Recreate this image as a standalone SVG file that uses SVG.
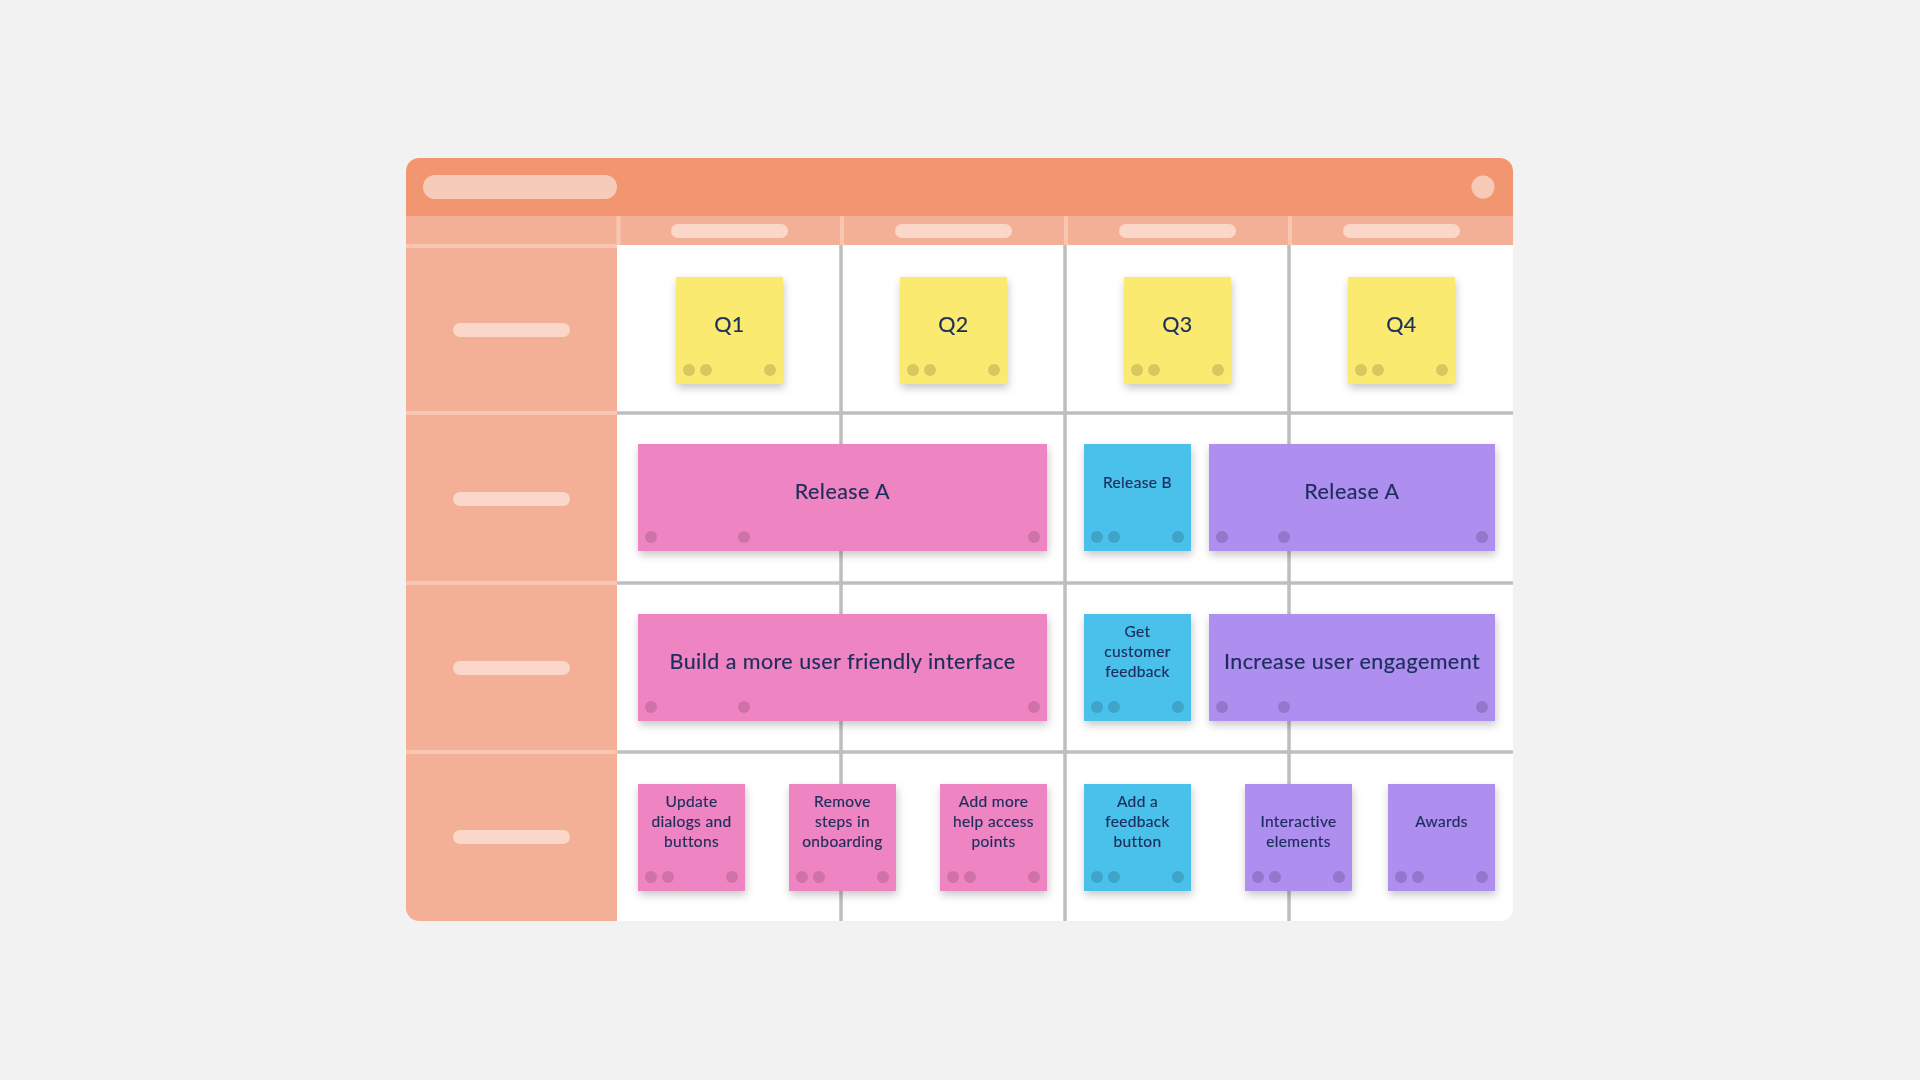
<svg xmlns="http://www.w3.org/2000/svg" width="1920" height="1080" viewBox="0 0 1920 1080">
<defs>
<style>
.t{font-family:Lato,"Open Sans","Liberation Sans",sans-serif;fill:#1C2D5C;stroke:#1C2D5C;stroke-width:0.18px;text-anchor:middle}
.big{font-size:21.5px;letter-spacing:0.45px}
.sm{font-size:15.5px;letter-spacing:0.35px}
.grid{stroke:#BEBEBE;stroke-width:3.5;fill:none}
.sep{stroke:#F8C6B2;stroke-width:4;fill:none}
.y{fill:#FAEB70}.yd{fill:#D6C85E}
.p{fill:#EF84C2}.pd{fill:#CF72A9}
.b{fill:#4AC1EB}.bd{fill:#3FA3C8}
.v{fill:#AE8EEE}.vd{fill:#9476CC}
.cp{fill:#FAD7C9}
</style>
<filter id="sh" x="-20%" y="-20%" width="140%" height="150%">
<feDropShadow dx="1" dy="4" stdDeviation="4" flood-color="#000" flood-opacity="0.22"/>
</filter>
<clipPath id="board"><rect x="406" y="158" width="1107" height="763" rx="13"/></clipPath>
</defs>
<rect width="1920" height="1080" fill="#F2F2F2"/>
<g id="board-frame" clip-path="url(#board)">
<rect x="406" y="158" width="1107" height="763" fill="#FFFFFF"/>
<rect x="406" y="158" width="1107" height="58" fill="#F29672"/>
<rect x="406" y="216" width="1107" height="29" fill="#F3B096"/>
<rect x="406" y="245" width="211" height="676" fill="#F3B096"/>
<rect x="423" y="175" width="194" height="24" rx="12" fill="#F7CBB9"/>
<circle cx="1483" cy="187" r="11.5" fill="#F7C9B7"/>
<g class="cp">
<rect x="671" y="224" width="117" height="14" rx="7"/>
<rect x="895" y="224" width="117" height="14" rx="7"/>
<rect x="1119" y="224" width="117" height="14" rx="7"/>
<rect x="1343" y="224" width="117" height="14" rx="7"/>
<rect x="453" y="323" width="117" height="14" rx="7"/>
<rect x="453" y="492" width="117" height="14" rx="7"/>
<rect x="453" y="661" width="117" height="14" rx="7"/>
<rect x="453" y="830" width="117" height="14" rx="7"/>
</g>
<path class="sep" d="M618.5 216V245M842 216V245M1066 216V245M1290 216V245M406 246H617M406 413H617M406 583H617M406 752H617"/>
</g>
<g id="connectors">
<path class="grid" d="M617 413H1513M617 583H1513M617 752H1513M841 245V921M1065 245V921M1289 245V921"/>
</g>
<g id="q1" filter="url(#sh)"><rect class="y" x="676" y="277" width="107" height="107"/><circle class="yd" cx="689" cy="370" r="6"/><circle class="yd" cx="706" cy="370" r="6"/><circle class="yd" cx="770" cy="370" r="6"/><text class="t big" x="729.5" y="332">Q1</text></g>
<g id="q2" filter="url(#sh)"><rect class="y" x="900" y="277" width="107" height="107"/><circle class="yd" cx="913" cy="370" r="6"/><circle class="yd" cx="930" cy="370" r="6"/><circle class="yd" cx="994" cy="370" r="6"/><text class="t big" x="953.5" y="332">Q2</text></g>
<g id="q3" filter="url(#sh)"><rect class="y" x="1124" y="277" width="107" height="107"/><circle class="yd" cx="1137" cy="370" r="6"/><circle class="yd" cx="1154" cy="370" r="6"/><circle class="yd" cx="1218" cy="370" r="6"/><text class="t big" x="1177.5" y="332">Q3</text></g>
<g id="q4" filter="url(#sh)"><rect class="y" x="1348" y="277" width="107" height="107"/><circle class="yd" cx="1361" cy="370" r="6"/><circle class="yd" cx="1378" cy="370" r="6"/><circle class="yd" cx="1442" cy="370" r="6"/><text class="t big" x="1401.5" y="332">Q4</text></g>
<g id="release-a-pink" filter="url(#sh)"><rect class="p" x="638" y="444" width="409" height="107"/><circle class="pd" cx="651" cy="537" r="6"/><circle class="pd" cx="744" cy="537" r="6"/><circle class="pd" cx="1034" cy="537" r="6"/><text class="t big" x="842.5" y="499">Release A</text></g>
<g id="release-b" filter="url(#sh)"><rect class="b" x="1084" y="444" width="107" height="107"/><circle class="bd" cx="1097" cy="537" r="6"/><circle class="bd" cx="1114" cy="537" r="6"/><circle class="bd" cx="1178" cy="537" r="6"/><text class="t sm" x="1137.5" y="488">Release B</text></g>
<g id="release-a-purple" filter="url(#sh)"><rect class="v" x="1209" y="444" width="286" height="107"/><circle class="vd" cx="1222" cy="537" r="6"/><circle class="vd" cx="1284" cy="537" r="6"/><circle class="vd" cx="1482" cy="537" r="6"/><text class="t big" x="1352" y="499">Release A</text></g>
<g id="build-interface" filter="url(#sh)"><rect class="p" x="638" y="614" width="409" height="107"/><circle class="pd" cx="651" cy="707" r="6"/><circle class="pd" cx="744" cy="707" r="6"/><circle class="pd" cx="1034" cy="707" r="6"/><text class="t big" x="842.5" y="669">Build a more user friendly interface</text></g>
<g id="customer-feedback" filter="url(#sh)"><rect class="b" x="1084" y="614" width="107" height="107"/><circle class="bd" cx="1097" cy="707" r="6"/><circle class="bd" cx="1114" cy="707" r="6"/><circle class="bd" cx="1178" cy="707" r="6"/><text class="t sm" x="1137.5" y="637">Get</text><text class="t sm" x="1137.5" y="657">customer</text><text class="t sm" x="1137.5" y="677">feedback</text></g>
<g id="user-engagement" filter="url(#sh)"><rect class="v" x="1209" y="614" width="286" height="107"/><circle class="vd" cx="1222" cy="707" r="6"/><circle class="vd" cx="1284" cy="707" r="6"/><circle class="vd" cx="1482" cy="707" r="6"/><text class="t big" x="1352" y="669">Increase user engagement</text></g>
<g id="update-dialogs" filter="url(#sh)"><rect class="p" x="638" y="784" width="107" height="107"/><circle class="pd" cx="651" cy="877" r="6"/><circle class="pd" cx="668" cy="877" r="6"/><circle class="pd" cx="732" cy="877" r="6"/><text class="t sm" x="691.5" y="807">Update</text><text class="t sm" x="691.5" y="827">dialogs and</text><text class="t sm" x="691.5" y="847">buttons</text></g>
<g id="remove-steps" filter="url(#sh)"><rect class="p" x="789" y="784" width="107" height="107"/><circle class="pd" cx="802" cy="877" r="6"/><circle class="pd" cx="819" cy="877" r="6"/><circle class="pd" cx="883" cy="877" r="6"/><text class="t sm" x="842.5" y="807">Remove</text><text class="t sm" x="842.5" y="827">steps in</text><text class="t sm" x="842.5" y="847">onboarding</text></g>
<g id="help-access" filter="url(#sh)"><rect class="p" x="940" y="784" width="107" height="107"/><circle class="pd" cx="953" cy="877" r="6"/><circle class="pd" cx="970" cy="877" r="6"/><circle class="pd" cx="1034" cy="877" r="6"/><text class="t sm" x="993.5" y="807">Add more</text><text class="t sm" x="993.5" y="827">help access</text><text class="t sm" x="993.5" y="847">points</text></g>
<g id="feedback-button" filter="url(#sh)"><rect class="b" x="1084" y="784" width="107" height="107"/><circle class="bd" cx="1097" cy="877" r="6"/><circle class="bd" cx="1114" cy="877" r="6"/><circle class="bd" cx="1178" cy="877" r="6"/><text class="t sm" x="1137.5" y="807">Add a</text><text class="t sm" x="1137.5" y="827">feedback</text><text class="t sm" x="1137.5" y="847">button</text></g>
<g id="interactive" filter="url(#sh)"><rect class="v" x="1245" y="784" width="107" height="107"/><circle class="vd" cx="1258" cy="877" r="6"/><circle class="vd" cx="1275" cy="877" r="6"/><circle class="vd" cx="1339" cy="877" r="6"/><text class="t sm" x="1298.5" y="827">Interactive</text><text class="t sm" x="1298.5" y="847">elements</text></g>
<g id="awards" filter="url(#sh)"><rect class="v" x="1388" y="784" width="107" height="107"/><circle class="vd" cx="1401" cy="877" r="6"/><circle class="vd" cx="1418" cy="877" r="6"/><circle class="vd" cx="1482" cy="877" r="6"/><text class="t sm" x="1441.5" y="827">Awards</text></g>
</svg>
